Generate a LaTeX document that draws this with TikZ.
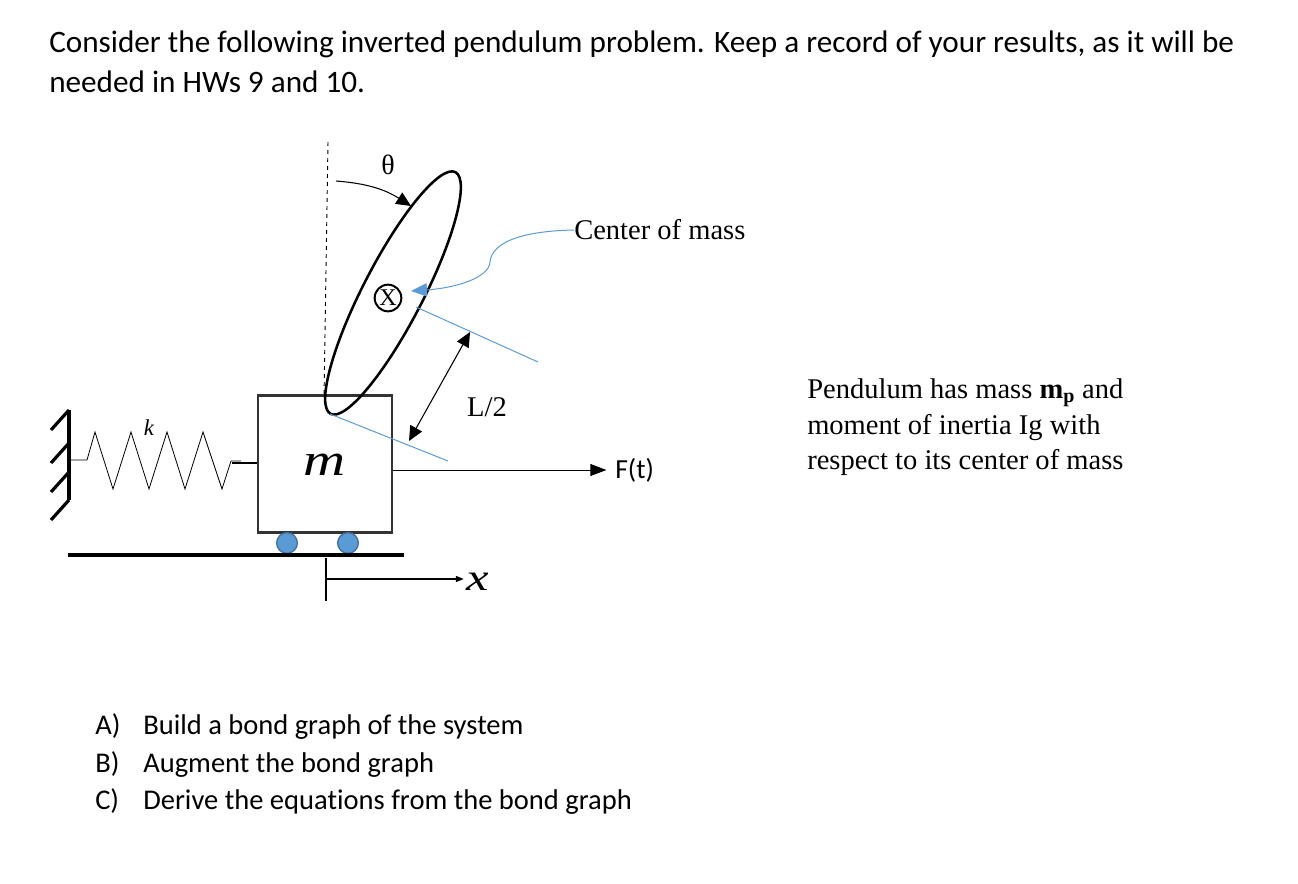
\documentclass[tikz,border=0pt]{standalone}
\usepackage{fontspec}
\setmainfont{Liberation Serif}
\newfontfamily\bodyfont[Ligatures=NoCommon]{Carlito}
\usetikzlibrary{arrows.meta,shapes.geometric}
\definecolor{skyline}{RGB}{91,155,213}
\definecolor{rollerline}{RGB}{65,113,156}
\tikzset{
    headtext/.style={font=\bodyfont\fontsize{23.4}{28}\selectfont, anchor=base west, inner sep=0pt},
    bodytext/.style={font=\bodyfont\fontsize{21.4}{26}\selectfont, anchor=base west, inner sep=0pt},
    serifnote/.style={font=\fontsize{21.4}{26}\selectfont, anchor=base west, inner sep=0pt},
    blueline/.style={skyline, line width=0.75pt},
    roller/.style={circle, draw=rollerline, fill=skyline, line width=1pt, minimum size=15.5pt, inner sep=0pt},
    hatch/.style={black, line width=2.4pt},
    bigtip/.style={line width=0.8pt, #1},
    bigtip/.default={-{Triangle[length=11pt,width=10pt]}},
}
\begin{document}
\begin{tikzpicture}[x=0.75pt,y=-0.75pt]
    \useasboundingbox (0,0) rectangle (1298,884);
    % question text
    \node[headtext] (introa) at (49,52.5) {Consider the following inverted pendulum problem. Keep a record of your results, as it will be};
    \node[headtext] (introb) at (49,93) {needed in HWs 9 and 10.};
    \node[bodytext] (parta) at (95,734) {A)};
    \node[bodytext] (texta) at (143,734) {Build a bond graph of the system};
    \node[bodytext] (partb) at (95,772) {B)};
    \node[bodytext] (textb) at (143,772) {Augment the bond graph};
    \node[bodytext] (partc) at (95,809) {C)};
    \node[bodytext] (textc) at (143,809) {Derive the equations from the bond graph};
    % pendulum note
    \node[serifnote] (notea) at (807,398) {Pendulum has mass \textbf{m\textsubscript{p}} and};
    \node[serifnote] (noteb) at (807,434) {moment of inertia Ig with};
    \node[serifnote] (notec) at (807,469.5) {respect to its center of mass};
    % cart
    \node[draw=black!80, line width=1.8pt, minimum width=133.5pt*0.75, minimum height=137pt*0.75, inner sep=0pt] (cart) at (325,464) {};
    \node[font=\itshape\fontsize{38}{38}\selectfont, inner sep=0pt] (masslabel) at (325,465) {\scalebox{1.15}[0.9]{m}};
    \node[roller] (rollera) at (287,543) {};
    \node[roller] (rollerb) at (348,543) {};
    \coordinate (groundl) at (68,555);
    \coordinate (groundr) at (404,555);
    \draw[line width=2.6pt] (groundl) -- (groundr);
    % x axis
    \coordinate (xfoot) at (326,558);
    \coordinate (xbase) at (326,601);
    \coordinate (xmid) at (326,579);
    \node[font=\itshape\fontsize{38}{38}\selectfont, inner sep=0pt] (xlabel) at (478,582) {\scalebox{1}[0.75]{x}};
    \draw[line width=1.2pt] (xfoot) -- (xbase);
    \draw[line width=1.1pt, -{Triangle[length=6pt,width=4.5pt]}, shorten >=2pt] (xmid) -- (xmid -| xlabel.west);
    % wall and spring
    \coordinate (walltop) at (69,410);
    \coordinate (wallbot) at (69,500);
    \draw[line width=2.4pt] (walltop) -- (wallbot);
    \foreach \y in {410,443,472,500}
    {%
        \draw[hatch] (69,\y) -- (51,\y+20);
    }%
    \draw[line width=0.6pt] (69,460) -- (87,460) -- (95,432) -- (113,489) -- (131,432) -- (149,489) -- (167,432) -- (185,489) -- (203,432) -- (222,489) -- (231,461) -- (241,461);
    \draw[line width=1.6pt] (232,463) -- (cart.west |- 0,463);
    \node[font=\itshape\fontsize{17}{17}\selectfont, inner sep=0pt] (springlabel) at (149,428) {k};
    % vertical reference
    \coordinate (vtop) at (328,142);
    \coordinate (vbot) at (324,398);
    \draw[dashed, line width=0.7pt] (vtop) -- (vbot);
    % pendulum
    \node[draw, ellipse, line width=1.9pt, minimum width=204pt, minimum height=45pt, inner sep=0pt, rotate=62.7] (pendulum) at (393,293) {};
    \node[draw, circle, line width=1.5pt, minimum size=20pt, inner sep=0pt, font=\fontsize{18}{18}\selectfont] (cmark) at (388,298) {X};
    \node[font=\fontsize{21}{21}\selectfont, inner sep=0pt] (thetalabel) at (388,165) {θ};
    \coordinate (thetastart) at (336,181);
    \coordinate (thetaend) at (411,206);
    \draw[bigtip] (thetastart) to[bend left=14] (thetaend);
    % center of mass callout
    \node[serifnote, anchor=west] (comlabel) at (574,230) {Center of mass};
    \draw[blueline, -{Triangle[length=12pt,width=10pt]}] (comlabel.west) .. controls (525,231) and (492,241) .. (490,262) .. controls (489,278) and (455,288) .. (411,291);
    % half length
    \coordinate (lena) at (416,307);
    \coordinate (lenb) at (538,362);
    \coordinate (lenc) at (330,414);
    \coordinate (lend) at (448,461);
    \draw[blueline] (lena) -- (lenb);
    \draw[blueline] (lenc) -- (lend);
    \coordinate (dima) at (470,332);
    \coordinate (dimb) at (409,441);
    \draw[bigtip={{Triangle[length=11pt,width=10pt]}-{Triangle[length=11pt,width=10pt]}}] (dima) -- (dimb);
    \node[serifnote, anchor=base] (halflabel) at (487,416) {L/2};
    % force
    \node[bodytext, font=\bodyfont\fontsize{20.7}{24}\selectfont] (forcelabel) at (615,478) {F(t)};
    \draw[line width=0.7pt, -{Triangle[length=12pt,width=9pt]}, shorten >=6.5pt] (cart.east |- 0,470) -- (forcelabel.west |- 0,470);
\end{tikzpicture}
\end{document}
